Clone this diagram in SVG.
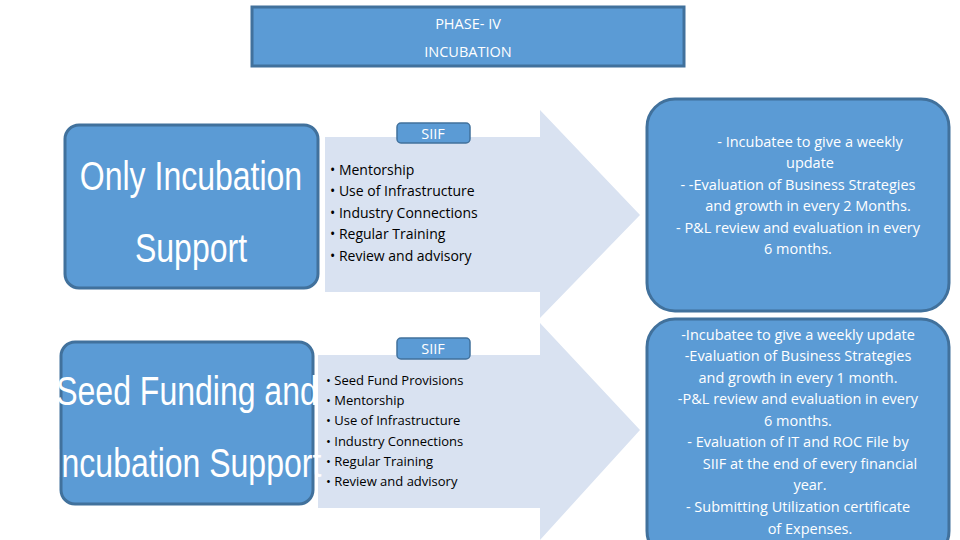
<svg xmlns="http://www.w3.org/2000/svg" width="960" height="540" viewBox="0 0 960 540">
<style>
.blue{fill:#5b9bd5;stroke:#41719c;stroke-width:3}
.arrow{fill:#d9e2f1}
.tab{fill:#5b9bd5;stroke:#41719c;stroke-width:1.5}
.big{font-family:"Liberation Sans Narrow","Liberation Sans",sans-serif;fill:#fff;font-size:40px;text-anchor:middle}
.t{font-family:"Open Sans","Liberation Sans",sans-serif;fill:#fff;font-size:14.5px;text-anchor:middle}
.b{font-family:"Open Sans","Liberation Sans",sans-serif;fill:#000;font-size:14px}
.b2{font-family:"Open Sans","Liberation Sans",sans-serif;fill:#000;font-size:13px}
</style>
<rect width="960" height="540" fill="#fff"/>
<g id="title"><rect x="252" y="7" width="432" height="59" class="blue" stroke-width="4"/>
<text x="468" y="29" class="t" font-size="17">PHASE- IV</text><text x="468" y="57" class="t" font-size="17">INCUBATION</text></g>
<g id="connectors">
<path class="arrow" d="M325 137H540V110L640 215L540 318V292H325Z"/>
<path class="arrow" d="M318 355H540V323L640 430L540 540V508H318Z"/>
</g>
<g id="only"><rect x="65" y="125" width="253" height="163" rx="14" class="blue"/>
<text x="191" y="190" class="big" transform="translate(191 0) scale(0.8 1) translate(-191 0)">Only Incubation</text>
<text x="191" y="262" class="big" transform="translate(191 0) scale(0.8 1) translate(-191 0)">Support</text></g>
<g id="seed"><rect x="61" y="342" width="252" height="162" rx="14" class="blue"/>
<text x="187" y="405" class="big" transform="translate(187 0) scale(0.8 1) translate(-187 0)">Seed Funding and</text>
<text x="187" y="477" class="big" transform="translate(187 0) scale(0.8 1) translate(-187 0)">Incubation Support</text></g>
<g id="list1"><rect x="397" y="123" width="73" height="20" rx="4" class="tab"/><text x="433" y="139" class="t" font-size="13">SIIF</text>
<text class="b"><tspan x="330" y="175">• Mentorship</tspan><tspan x="330" y="196">• Use of Infrastructure</tspan><tspan x="330" y="218">• Industry Connections</tspan><tspan x="330" y="239">• Regular Training</tspan><tspan x="330" y="261">• Review and advisory</tspan></text></g>
<g id="list2"><rect x="397" y="338" width="73" height="21" rx="4" class="tab"/><text x="433" y="354" class="t" font-size="13">SIIF</text>
<text class="b2"><tspan x="326" y="385">• Seed Fund Provisions</tspan><tspan x="326" y="405">• Mentorship</tspan><tspan x="326" y="425">• Use of Infrastructure</tspan><tspan x="326" y="446">• Industry Connections</tspan><tspan x="326" y="466">• Regular Training</tspan><tspan x="326" y="486">• Review and advisory</tspan></text></g>
<g id="review1"><rect x="647" y="99" width="302" height="212" rx="28" class="blue"/>
<text class="t"><tspan x="810" y="147">-   Incubatee to give a weekly</tspan><tspan x="810" y="168">update</tspan><tspan x="798" y="190">-   -Evaluation of Business Strategies</tspan><tspan x="808" y="211">and growth in every 2 Months.</tspan><tspan x="798" y="233">- P&amp;L review and evaluation in every</tspan><tspan x="798" y="254">6 months.</tspan></text></g>
<g id="review2"><rect x="647" y="319" width="302" height="240" rx="28" class="blue"/>
<text class="t"><tspan x="798" y="340">-Incubatee to give a weekly update</tspan><tspan x="798" y="361">-Evaluation of Business Strategies</tspan><tspan x="798" y="383">and growth in every 1 month.</tspan><tspan x="798" y="404">-P&amp;L review and evaluation in every</tspan><tspan x="798" y="426">6 months.</tspan><tspan x="798" y="447">-   Evaluation of IT and ROC File by</tspan><tspan x="810" y="469">SIIF at the end of every financial</tspan><tspan x="810" y="490">year.</tspan><tspan x="798" y="512">-   Submitting Utilization certificate</tspan><tspan x="810" y="534">of Expenses.</tspan></text></g>
</svg>
